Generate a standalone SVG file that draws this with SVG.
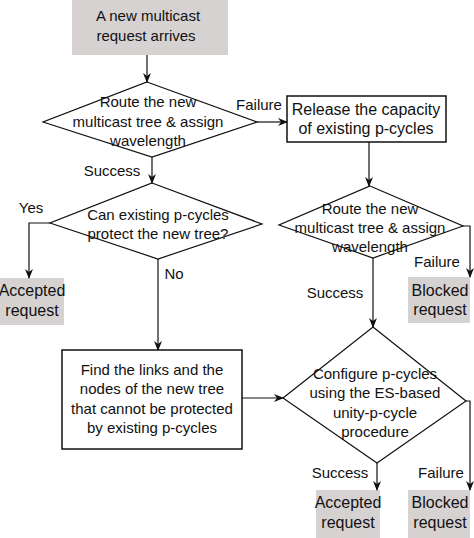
<svg xmlns="http://www.w3.org/2000/svg" width="474" height="538" viewBox="0 0 474 538">
<defs>
<marker id="arr" markerWidth="10" markerHeight="8" refX="9" refY="4" orient="auto" markerUnits="userSpaceOnUse">
<path d="M0,0 L10,4 L0,8 L3,4 Z" fill="#111"/>
</marker>
<style>
text{font-family:"Liberation Sans",Arial,sans-serif;font-size:15px;fill:#111;text-anchor:middle}
.big{font-size:16px}
.term{fill:#d7d2d2;stroke:none}
.proc{fill:#fff;stroke:#111;stroke-width:1.5}
.dec{fill:#fff;stroke:#111;stroke-width:1.2}
.edge{fill:none;stroke:#111;stroke-width:1.2;marker-end:url(#arr)}
</style>
</defs>
<rect width="474" height="538" fill="#fff"/>
<g id="start">
<rect class="term" x="72" y="0" width="156" height="55"/>
<text x="148" y="21">A new multicast</text>
<text x="146" y="41">request arrives</text>
</g>
<g id="route1">
<polygon class="dec" points="147,82 257,122 152,157 43,122"/>
<text x="148" y="107">Route the new</text>
<text x="148" y="127">multicast tree &amp; assign</text>
<text x="148" y="146">wavelength</text>
</g>
<g id="release">
<rect class="proc" x="287" y="96" width="159" height="46"/>
<text class="big" x="366" y="115">Release the capacity</text>
<text class="big" x="366" y="134">of existing p-cycles</text>
</g>
<g id="canprotect">
<polygon class="dec" points="152,183 262,224 158,259 50,223"/>
<text x="158" y="220">Can existing p-cycles</text>
<text x="158" y="239">protect the new tree?</text>
</g>
<g id="route2">
<polygon class="dec" points="370,186 463,226 373,258 279,225"/>
<text x="370" y="214">Route the new</text>
<text x="370" y="233">multicast tree &amp; assign</text>
<text x="370" y="252">wavelength</text>
</g>
<g id="accepted1">
<rect class="term" x="0" y="278" width="64" height="47"/>
<text class="big" x="32" y="296">Accepted</text>
<text class="big" x="32" y="316">request</text>
</g>
<g id="blocked1">
<rect class="term" x="408" y="277" width="62" height="46"/>
<text class="big" x="440" y="296">Blocked</text>
<text class="big" x="440" y="315">request</text>
</g>
<g id="find">
<rect class="proc" x="62" y="350" width="180" height="99"/>
<text x="152" y="375">Find the links and the</text>
<text x="152" y="394">nodes of the new tree</text>
<text x="152" y="414">that cannot be protected</text>
<text x="152" y="433">by existing p-cycles</text>
</g>
<g id="configure">
<polygon class="dec" points="373,327 466,401 377,463 283,398"/>
<text x="375" y="379">Configure p-cycles</text>
<text x="375" y="398">using the ES-based</text>
<text x="375" y="418">unity-p-cycle</text>
<text x="375" y="437">procedure</text>
</g>
<g id="accepted2">
<rect class="term" x="316" y="490" width="64" height="48"/>
<text class="big" x="348" y="508">Accepted</text>
<text class="big" x="348" y="528">request</text>
</g>
<g id="blocked2">
<rect class="term" x="408" y="490" width="62" height="48"/>
<text class="big" x="440" y="508">Blocked</text>
<text class="big" x="440" y="528">request</text>
</g>
<g id="connectors">
<path class="edge" d="M147,55 L147,82"/>
<path class="edge" d="M257,122 L287,122"/>
<path class="edge" d="M369,142 L369,186"/>
<path class="edge" d="M152,157 L152,183"/>
<path class="edge" d="M50,223 L29,223 L29,278"/>
<path class="edge" d="M158,259 L158,350"/>
<path class="edge" d="M463,226 L470,226 L470,277"/>
<path class="edge" d="M373,258 L373,327"/>
<path class="edge" d="M242,398 L283,398"/>
<path class="edge" d="M377,463 L377,490"/>
<path class="edge" d="M466,401 L470,401 L470,490"/>
<text x="259" y="110">Failure</text>
<text x="112" y="176">Success</text>
<text x="31" y="213">Yes</text>
<text x="174" y="279">No</text>
<text x="437" y="267">Failure</text>
<text x="335" y="298">Success</text>
<text x="340" y="478">Success</text>
<text x="441" y="478">Failure</text>
</g>
</svg>
